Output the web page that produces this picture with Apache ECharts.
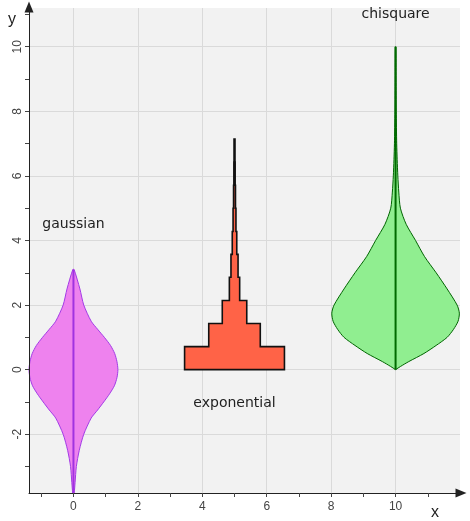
<!DOCTYPE html>
<html>
<head>
<meta charset="utf-8">
<script src="https://cdn.jsdelivr.net/npm/echarts@6/dist/echarts.min.js"></script>
<style>
html,body{margin:0;padding:0;background:#fff;}
#chart{width:470px;height:521px;}
</style>
</head>
<body>
<div id="chart"></div>
<script>
// ---- data ----
var violinNames = ['gaussian', 'exponential', 'chisquare'];
var violinCenters = [0, 5, 10];

// gaussian: density half-widths at y levels
var gaussY = [-3.82, -3.5, -3.0, -2.5, -2.0, -1.5, -1.25, -1.0, -0.75, -0.5, -0.25, 0, 0.25, 0.5, 0.75, 1.0, 1.25, 1.5, 2.0, 2.5, 3.1];
var gaussW = [0.02, 0.05, 0.09, 0.18, 0.32, 0.55, 0.75, 0.94, 1.12, 1.27, 1.35, 1.38, 1.35, 1.28, 1.15, 0.96, 0.75, 0.55, 0.32, 0.2, 0.02];

// exponential: histogram bins (edges) and half-widths
var expEdges = [0, 0.714, 1.43, 2.14, 2.86, 3.57, 4.28, 5.0, 5.71, 6.43, 7.14];
var expW = [1.55, 0.80, 0.38, 0.16, 0.11, 0.07, 0.045, 0.03, 0.02, 0.015];

// chisquare: density half-widths at y levels
var chiY = [0, 0.1, 0.25, 0.5, 0.75, 1.0, 1.25, 1.5, 1.75, 2.0, 2.5, 3.0, 3.5, 4.0, 4.5, 5.0, 5.5, 6.0, 6.5, 7.0, 8.0, 9.0, 10.0];
var chiW = [0, 0.155, 0.41, 0.88, 1.26, 1.6, 1.8, 1.94, 1.98, 1.91, 1.6, 1.26, 0.9, 0.62, 0.33, 0.15, 0.1, 0.07, 0.05, 0.035, 0.02, 0.015, 0.01];

// text annotations (data coordinates)
var labelX = [0, 5, 10];
var labelY = [4.5, -1.05, 11.0];

// axis ticks
var xTicks = [-1, 0, 1, 2, 3, 4, 5, 6, 7, 8, 9, 10, 11];
var xLabels = [0, 2, 4, 6, 8, 10];
var yTicks = [-3, -2, -1, 0, 1, 2, 3, 4, 5, 6, 7, 8, 9, 10, 11];
var yLabels = [-2, 0, 2, 4, 6, 8, 10];
var xRange = [-1.38, 12.0];
var yRange = [-3.82, 11.2];

// ---- build shapes ----
function smoothOutline(cx, ys, ws) {
  var pts = [];
  for (var i = 0; i < ys.length; i++) pts.push([cx + ws[i], ys[i]]);
  for (var j = ys.length - 1; j >= 0; j--) pts.push([cx - ws[j], ys[j]]);
  return pts;
}
function stepOutline(cx, edges, ws) {
  var right = [], left = [];
  for (var i = 0; i < ws.length; i++) {
    right.push([cx + ws[i], edges[i]]);
    right.push([cx + ws[i], edges[i + 1]]);
    left.push([cx - ws[i], edges[i]]);
    left.push([cx - ws[i], edges[i + 1]]);
  }
  return right.concat(left.reverse());
}

var violins = [
  { pts: smoothOutline(violinCenters[0], gaussY, gaussW), smooth: 0.25, fill: '#ee82ee', stroke: '#a33be6', lw: 1,
    line: [[violinCenters[0], gaussY[0]], [violinCenters[0], gaussY[gaussY.length - 1]]], lineColor: '#a033e0' },
  { pts: stepOutline(violinCenters[1], expEdges, expW), smooth: 0, fill: '#ff6347', stroke: '#111111', lw: 1.6, line: null },
  { pts: smoothOutline(violinCenters[2], chiY, chiW), smooth: 0.25, fill: '#90ee90', stroke: '#006400', lw: 1,
    line: [[violinCenters[2], chiY[0]], [violinCenters[2], chiY[chiY.length - 1]]], lineColor: '#006a00' }
];

var chart = echarts.init(document.getElementById('chart'), null, { renderer: 'canvas' });

var labelFont = 'Liberation Sans, Arial, sans-serif';
var axisLineCommon = { show: true, onZero: false, lineStyle: { color: '#222', width: 1 }, symbol: ['none', 'triangle'], symbolSize: [9, 11], symbolOffset: [0, 1] };

var option = {
  animation: false,
  backgroundColor: '#ffffff',
  grid: { left: 29, right: 10, top: 8, bottom: 28, show: true, backgroundColor: '#f2f2f2', borderWidth: 0 },
  xAxis: [
    {
      type: 'value', min: xRange[0], max: xRange[1], position: 'bottom',
      name: 'x', nameLocation: 'end', nameGap: 0,
      nameTextStyle: { color: '#222', fontSize: 16, fontFamily: labelFont, align: 'right', verticalAlign: 'top', padding: [12, 21, 0, 0] },
      axisLine: axisLineCommon,
      axisTick: { show: true, length: 4, customValues: xTicks, lineStyle: { color: '#444' } },
      axisLabel: { customValues: xLabels, margin: 8, color: '#444', fontSize: 12, fontFamily: labelFont },
      splitLine: { show: false },
      z: 5
    },
    {
      type: 'value', min: xRange[0], max: xRange[1], position: 'bottom',
      axisLine: { show: false }, axisLabel: { show: false },
      axisTick: { show: false, customValues: xLabels },
      splitLine: { show: true, lineStyle: { color: '#dadada', width: 1 } }
    }
  ],
  yAxis: [
    {
      type: 'value', min: yRange[0], max: yRange[1], position: 'left',
      name: 'y', nameLocation: 'end', nameGap: 0,
      nameTextStyle: { color: '#222', fontSize: 16, fontFamily: labelFont, align: 'right', verticalAlign: 'top', padding: [4, 13, 0, 0] },
      axisLine: axisLineCommon,
      axisTick: { show: true, length: 4, customValues: yTicks, lineStyle: { color: '#444' } },
      axisLabel: { customValues: yLabels, rotate: 90, margin: 5, color: '#444', fontSize: 12, fontFamily: labelFont },
      splitLine: { show: false },
      z: 5
    },
    {
      type: 'value', min: yRange[0], max: yRange[1], position: 'left',
      axisLine: { show: false }, axisLabel: { show: false },
      axisTick: { show: false, customValues: yLabels },
      splitLine: { show: true, lineStyle: { color: '#dadada', width: 1 } }
    }
  ],
  series: [
    {
      type: 'custom',
      xAxisIndex: 0, yAxisIndex: 0,
      data: violins.map(function (v, i) { return [violinCenters[i], 0]; }),
      clip: false,
      renderItem: function (params, api) {
        var v = violins[params.dataIndex];
        var pts = v.pts.map(function (p) { return api.coord(p); });
        var children = [{
          type: 'polygon',
          shape: { points: pts, smooth: v.smooth },
          style: { fill: v.fill, stroke: v.stroke, lineWidth: v.lw }
        }];
        if (v.line) {
          var a = api.coord(v.line[0]), b = api.coord(v.line[1]);
          children.push({
            type: 'line',
            shape: { x1: a[0], y1: a[1], x2: b[0], y2: b[1] },
            style: { stroke: v.lineColor, lineWidth: 2 }
          });
        }
        return { type: 'group', children: children };
      }
    },
    {
      type: 'custom',
      xAxisIndex: 0, yAxisIndex: 0,
      data: labelX.map(function (x, i) { return [x, labelY[i]]; }),
      clip: false,
      renderItem: function (params, api) {
        var p = api.coord([api.value(0), api.value(1)]);
        return {
          type: 'text',
          x: p[0], y: p[1],
          style: {
            text: violinNames[params.dataIndex],
            fill: '#222',
            fontSize: 14,
            fontFamily: 'DejaVu Sans, sans-serif',
            align: 'center', verticalAlign: 'middle'
          }
        };
      }
    }
  ]
};
chart.setOption(option);
</script>
</body>
</html>
